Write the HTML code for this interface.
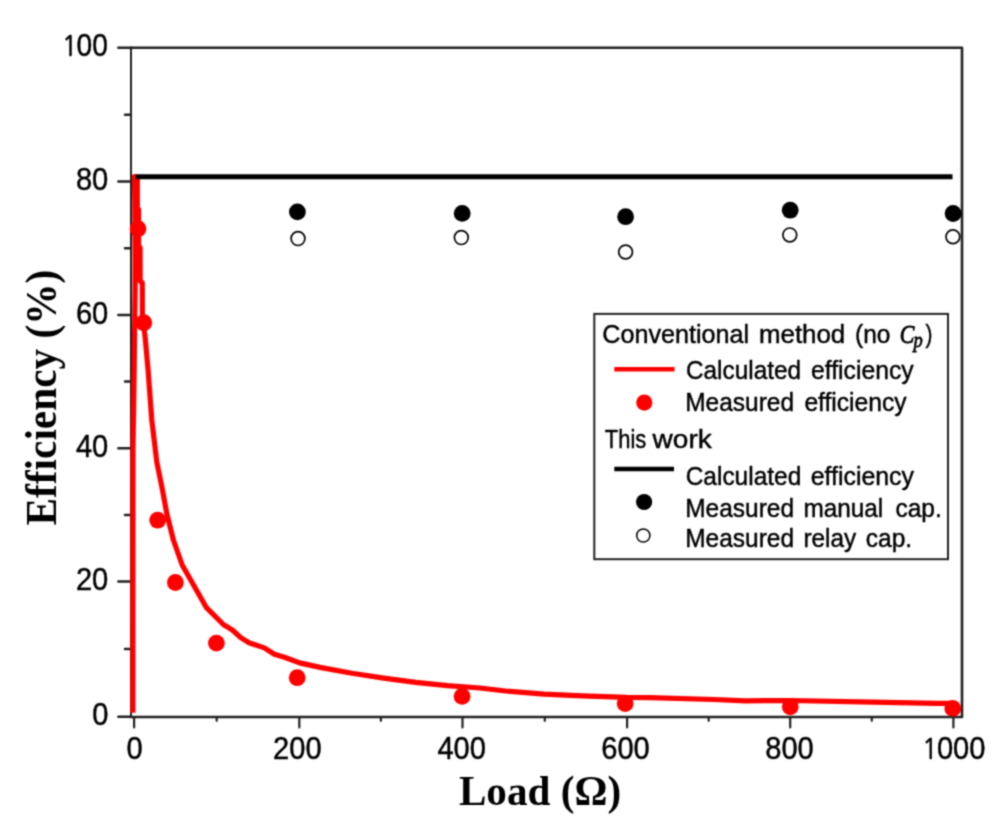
<!DOCTYPE html><html><head><meta charset="utf-8"><title>Efficiency vs Load</title><style>html,body{margin:0;padding:0;background:#fff;overflow:hidden}svg{display:block}</style></head><body>
<svg width="1004" height="832" viewBox="0 0 1004 832">
<defs><filter id="soft" x="0" y="0" width="1004" height="832" filterUnits="userSpaceOnUse" color-interpolation-filters="sRGB"><feConvolveMatrix order="3" kernelMatrix="0.0439 0.1217 0.0439 0.1217 0.3377 0.1217 0.0439 0.1217 0.0439" divisor="1.0000" preserveAlpha="true"/></filter></defs>
<g filter="url(#soft)">
<rect width="1004" height="832" fill="#fff"/>
<path d="M118.3,716.8 H131 M118.3,581.5 H131 M118.3,448.3 H131 M118.3,315.0 H131 M118.3,181.5 H131 M118.3,47.8 H131 M125,649.1 H131 M125,514.9 H131 M125,381.6 H131 M125,248.2 H131 M125,114.7 H131" stroke="#222" stroke-width="2.5" fill="none" stroke-linecap="round"/>
<path d="M134.1,717 V727.4 M299.3,717 V727.4 M462.5,717 V727.4 M627.1,717 V727.4 M790.2,717 V727.4 M953.4,717 V727.4 M216.7,717 V720.8 M380.9,717 V720.8 M544.8,717 V720.8 M708.7,717 V720.8 M871.8,717 V720.8" stroke="#222" stroke-width="2.2" fill="none" stroke-linecap="round"/>
<path d="M130,47.75 H962 V717 H130" fill="none" stroke="#222" stroke-width="2.6" stroke-linejoin="round"/>
<path d="M131,47 V717.5" fill="none" stroke="#222" stroke-width="2.0"/>
<path d="M132.9,712.8 L133.0,448.0 L134.2,370.0 L135.1,290.0 L135.2,262.0 L134.8,200.0 L134.5,176.6 L137.3,177.5 L137.3,208.0 L138.6,209.5 L138.6,246.0 L140.1,247.5 L140.2,281.0 L142.3,283.0 L142.4,314.0 L145.2,338.0 L148.1,370.0 L151.8,420.0 L156.8,462.0 L161.9,487.0 L166.9,514.0 L173.4,540.0 L182.2,565.0 L206.2,607.3 L223.9,625.0 L228.5,627.6 L233.0,630.5 L240.7,637.6 L249.1,642.7 L264.3,647.9 L274.4,654.2 L284.5,657.2 L299.6,662.9 L320.0,667.4 L351.9,673.3 L383.7,678.1 L415.6,682.4 L447.5,685.6 L480.0,688.0 L505.7,691.0 L544.0,694.2 L582.2,695.8 L626.9,697.4 L650.0,697.6 L713.7,699.5 L745.6,700.8 L790.2,700.5 L873.1,702.1 L936.9,703.3 L953.0,703.3" stroke="#f00" stroke-width="5.2" fill="none" stroke-linejoin="round" stroke-linecap="butt"/>
<path d="M135.8,176.7 H952.5" stroke="#000" stroke-width="5"/>
<circle cx="138" cy="228.7" r="8.4" fill="#f00"/>
<circle cx="143.8" cy="322.7" r="8.4" fill="#f00"/>
<circle cx="157.7" cy="520.2" r="8.4" fill="#f00"/>
<circle cx="175.4" cy="582.5" r="8.4" fill="#f00"/>
<circle cx="216.4" cy="643.1" r="8.4" fill="#f00"/>
<circle cx="297.2" cy="677.7" r="8.4" fill="#f00"/>
<circle cx="462.1" cy="696.4" r="8.4" fill="#f00"/>
<circle cx="625.2" cy="703.5" r="8.4" fill="#f00"/>
<circle cx="790.3" cy="706.8" r="8.4" fill="#f00"/>
<circle cx="952.8" cy="708.4" r="8.4" fill="#f00"/>
<circle cx="297.4" cy="211.9" r="8.4" fill="#000"/>
<circle cx="462.2" cy="213.4" r="8.4" fill="#000"/>
<circle cx="625.6" cy="216.7" r="8.4" fill="#000"/>
<circle cx="790.2" cy="210.2" r="8.4" fill="#000"/>
<circle cx="953.1" cy="213.5" r="8.4" fill="#000"/>
<circle cx="298" cy="238.6" r="6.9" fill="#fff" stroke="#000" stroke-width="1.7"/>
<circle cx="461.3" cy="237.6" r="6.9" fill="#fff" stroke="#000" stroke-width="1.7"/>
<circle cx="625.6" cy="252" r="6.9" fill="#fff" stroke="#000" stroke-width="1.7"/>
<circle cx="789.8" cy="234.9" r="6.9" fill="#fff" stroke="#000" stroke-width="1.7"/>
<circle cx="952.9" cy="236.7" r="6.9" fill="#fff" stroke="#000" stroke-width="1.7"/>
<text transform="translate(92.21,725.40) scale(0.9209,1)" font-family="Liberation Sans, Arial, sans-serif" font-size="31.6" stroke="#000" stroke-width="0.45">0</text>
<text transform="translate(75.92,590.10) scale(0.9209,1)" font-family="Liberation Sans, Arial, sans-serif" font-size="31.6" stroke="#000" stroke-width="0.45">20</text>
<text transform="translate(75.92,456.90) scale(0.9209,1)" font-family="Liberation Sans, Arial, sans-serif" font-size="31.6" stroke="#000" stroke-width="0.45">40</text>
<text transform="translate(75.92,323.60) scale(0.9209,1)" font-family="Liberation Sans, Arial, sans-serif" font-size="31.6" stroke="#000" stroke-width="0.45">60</text>
<text transform="translate(75.92,190.10) scale(0.9209,1)" font-family="Liberation Sans, Arial, sans-serif" font-size="31.6" stroke="#000" stroke-width="0.45">80</text>
<text transform="translate(0,56.40) scale(0.8897,1)" font-family="Liberation Sans, Arial, sans-serif" font-size="31.6" stroke="#000" stroke-width="0.45"><tspan x="69.80" dy="-0.15" font-family="NanumGothic, Liberation Sans, sans-serif" font-size="28.5" stroke-width="0.65">1</tspan><tspan x="86.06" dy="0.15">00</tspan></text>
<text transform="translate(126.42,759.20) scale(0.9209,1)" font-family="Liberation Sans, Arial, sans-serif" font-size="31.6" stroke="#000" stroke-width="0.45">0</text>
<text transform="translate(273.06,759.20) scale(0.9209,1)" font-family="Liberation Sans, Arial, sans-serif" font-size="31.6" stroke="#000" stroke-width="0.45">200</text>
<text transform="translate(437.42,759.20) scale(0.9209,1)" font-family="Liberation Sans, Arial, sans-serif" font-size="31.6" stroke="#000" stroke-width="0.45">400</text>
<text transform="translate(601.26,759.20) scale(0.9209,1)" font-family="Liberation Sans, Arial, sans-serif" font-size="31.6" stroke="#000" stroke-width="0.45">600</text>
<text transform="translate(765.23,759.20) scale(0.9209,1)" font-family="Liberation Sans, Arial, sans-serif" font-size="31.6" stroke="#000" stroke-width="0.45">800</text>
<text transform="translate(0,759.20) scale(0.9215,1)" font-family="Liberation Sans, Arial, sans-serif" font-size="31.6" stroke="#000" stroke-width="0.45"><tspan x="1000.65" dy="-0.15" font-family="NanumGothic, Liberation Sans, sans-serif" font-size="28.5" stroke-width="0.65">1</tspan><tspan x="1016.75" dy="0.15">000</tspan></text>
<text transform="translate(458.88,804.80) scale(0.9948,1)" font-family="Liberation Serif, Times New Roman, serif" font-size="41.4" font-weight="bold">Load (Ω)</text>
<text transform="translate(55.8,525.42) rotate(-90) scale(0.9362,1)" font-family="Liberation Serif, Times New Roman, serif" font-weight="bold" font-size="44.1">Efficiency (%)</text>
<rect x="594.3" y="313.9" width="353.7" height="245.3" fill="#fff" stroke="#222" stroke-width="2"/>
<text y="342.80" font-family="Liberation Sans, Arial, sans-serif" font-size="26" stroke="#000" stroke-width="0.45"><tspan x="602.24" textLength="146.85" lengthAdjust="spacingAndGlyphs">Conventional</tspan> <tspan x="758.92" textLength="86.38" lengthAdjust="spacingAndGlyphs">method</tspan> <tspan x="855.03" textLength="35.35" lengthAdjust="spacingAndGlyphs">(no</tspan> <tspan x="899.80" textLength="14.52" lengthAdjust="spacingAndGlyphs" font-family="Liberation Serif, Times New Roman, serif" font-style="italic" font-size="24.5" stroke-width="0.9" dy="0.1">C</tspan><tspan x="913.41" textLength="9.25" lengthAdjust="spacingAndGlyphs" font-family="Liberation Serif, Times New Roman, serif" font-style="italic" font-size="21.8" stroke-width="0.8" dy="4.1">p</tspan><tspan x="925.49" textLength="6.92" lengthAdjust="spacingAndGlyphs" dy="-4.2">)</tspan></text>
<text y="379.30" font-family="Liberation Sans, Arial, sans-serif" font-size="26" stroke="#000" stroke-width="0.45"><tspan x="685.98" textLength="115.10" lengthAdjust="spacingAndGlyphs">Calculated</tspan> <tspan x="811.09" textLength="102.55" lengthAdjust="spacingAndGlyphs">efficiency</tspan></text>
<text y="410.60" font-family="Liberation Sans, Arial, sans-serif" font-size="26" stroke="#000" stroke-width="0.45"><tspan x="685.24" textLength="108.79" lengthAdjust="spacingAndGlyphs">Measured</tspan> <tspan x="804.39" textLength="102.24" lengthAdjust="spacingAndGlyphs">efficiency</tspan></text>
<text y="448.10" font-family="Liberation Sans, Arial, sans-serif" font-size="26" stroke="#000" stroke-width="0.45"><tspan x="604.85" textLength="41.41" lengthAdjust="spacingAndGlyphs">This</tspan> <tspan x="652.60" textLength="59.14" lengthAdjust="spacingAndGlyphs">work</tspan></text>
<text y="485.30" font-family="Liberation Sans, Arial, sans-serif" font-size="26" stroke="#000" stroke-width="0.45"><tspan x="685.68" textLength="115.62" lengthAdjust="spacingAndGlyphs">Calculated</tspan> <tspan x="810.68" textLength="103.35" lengthAdjust="spacingAndGlyphs">efficiency</tspan></text>
<text y="517.00" font-family="Liberation Sans, Arial, sans-serif" font-size="26" stroke="#000" stroke-width="0.45"><tspan x="685.24" textLength="108.79" lengthAdjust="spacingAndGlyphs">Measured</tspan> <tspan x="803.42" textLength="79.86" lengthAdjust="spacingAndGlyphs">manual</tspan> <tspan x="895.40" textLength="46.31" lengthAdjust="spacingAndGlyphs">cap.</tspan></text>
<text y="547.00" font-family="Liberation Sans, Arial, sans-serif" font-size="26" stroke="#000" stroke-width="0.45"><tspan x="685.24" textLength="108.79" lengthAdjust="spacingAndGlyphs">Measured</tspan> <tspan x="803.42" textLength="52.74" lengthAdjust="spacingAndGlyphs">relay</tspan> <tspan x="865.80" textLength="46.31" lengthAdjust="spacingAndGlyphs">cap.</tspan></text>
<path d="M614.3,369.3 H674.6" stroke="#f00" stroke-width="4.6"/>
<circle cx="644.3" cy="402.6" r="8.1" fill="#f00"/>
<path d="M614.3,469 H674" stroke="#000" stroke-width="4.6"/>
<circle cx="644.1" cy="502" r="8.1" fill="#000"/>
<circle cx="643.3" cy="535.5" r="6.6" fill="#fff" stroke="#000" stroke-width="1.5"/>
</g></svg></body></html>
